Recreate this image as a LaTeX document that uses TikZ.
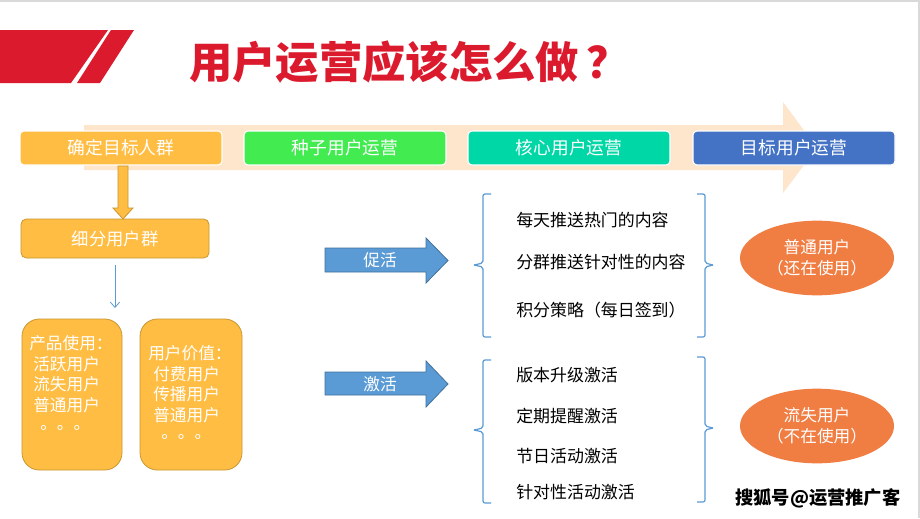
\documentclass[tikz,border=0pt]{standalone}
\usepackage{fontspec}
\setmainfont{Noto Sans CJK SC}
\usetikzlibrary{shapes.geometric,arrows.meta}
\definecolor{linegray}{HTML}{D9D9D9}
\definecolor{titlered}{HTML}{DC1A2E}
\definecolor{peach}{HTML}{FDE6CC}
\definecolor{orangey}{HTML}{FFBD43}
\definecolor{orangeedge}{HTML}{C9962F}
\definecolor{greenbox}{HTML}{41EB50}
\definecolor{tealbox}{HTML}{00D7A6}
\definecolor{bluebox}{HTML}{4472C4}
\definecolor{arrowblue}{HTML}{5B9BD5}
\definecolor{arrowedge}{HTML}{41719C}
\definecolor{ellorange}{HTML}{F07D42}
\tikzset{
  stagebox/.style={draw=white, line width=0.8pt, rounded corners=3pt, minimum width=151.5pt, minimum height=25.5pt, text=white, font=\fontsize{13.3}{15}\selectfont, inner sep=0pt},
  wtext/.style={text=white, font=\fontsize{12.5}{15}\selectfont, inner sep=0pt},
  btext/.style={text=black, font=\fontsize{12.7}{15}\selectfont, inner sep=0pt, anchor=west},
  usrell/.style={ellipse, fill=ellorange, draw=none, minimum width=115.5pt, minimum height=56pt, text=white, font=\fontsize{12.5}{15.5}\selectfont, align=center, inner sep=0pt},
  bracket/.style={draw=arrowblue, line width=0.9pt, rounded corners=1.5pt},
}
\begin{document}
\begin{tikzpicture}[x=0.75pt,y=-0.75pt]
\useasboundingbox (0,0) rectangle (920,518);
\fill[white] (0,0) rectangle (920,518);
\fill[linegray] (0,0) rectangle (920,1.5);
\fill[linegray] (918,0) rectangle (920,518);
% red banner
\fill[titlered] (0,30) -- (108,30) -- (71,83) -- (0,83) -- cycle;
\fill[titlered] (111,30) -- (134,30) -- (100,83) -- (77,83) -- cycle;
\node[anchor=west, text=titlered, font=\bfseries\fontsize{32.5}{38}\selectfont, inner sep=0pt] (title) at (189,62) {用户运营应该怎么做\,？};
% big peach arrow
\fill[peach] (84,125) -- (783,125) -- (783,102) -- (817,148) -- (783,193) -- (783,170) -- (84,170) -- cycle;
% stage boxes
\node[stagebox, fill=orangey] (s1) at (121,148) {确定目标人群};
\node[stagebox, fill=greenbox] (s2) at (345,148) {种子用户运营};
\node[stagebox, fill=tealbox] (s3) at (569,148) {核心用户运营};
\node[stagebox, fill=bluebox] (s4) at (794,148) {目标用户运营};
% segment box
\node[draw=orangeedge, fill=orangey, line width=0.6pt, rounded corners=4pt, minimum width=141pt, minimum height=29.25pt, text=white, font=\fontsize{13}{15}\selectfont, inner sep=0pt] (seg) at (115,238.5) {细分用户群};
% down arrow
\filldraw[fill=orangey, draw=orangeedge, line width=0.6pt] (118,166) -- (128,166) -- (128,208) -- (133,208) -- (123,219) -- (113,208) -- (118,208) -- cycle;
% thin arrow
\coordinate (thinstart) at (115,265);
\coordinate (thinend) at (115,308);
\draw[arrowblue, line width=0.6pt, -{Straight Barb[length=4pt,width=7pt]}] (thinstart) -- (thinend);
% rounded boxes
\filldraw[fill=orangey, draw=orangeedge, line width=0.6pt, rounded corners=13pt] (22,319) rectangle (122,470);
\filldraw[fill=orangey, draw=orangeedge, line width=0.6pt, rounded corners=13pt] (140,319) rectangle (242,470);
\node[wtext, anchor=west] (a1) at (29,343) {产品使用：};
\node[wtext, anchor=west] (a2) at (33,364) {活跃用户};
\node[wtext, anchor=west] (a3) at (33,384) {流失用户};
\node[wtext, anchor=west] (a4) at (33,405) {普通用户};
\node[wtext, anchor=west] (a5) at (40,428) {。。。};
\node[wtext, anchor=west] (b1) at (148,353) {用户价值：};
\node[wtext, anchor=west] (b2) at (153,374) {付费用户};
\node[wtext, anchor=west] (b3) at (153,394) {传播用户};
\node[wtext, anchor=west] (b4) at (153,415) {普通用户};
\node[wtext, anchor=west] (b5) at (161,437) {。。。};
% blue arrows
\filldraw[fill=arrowblue, draw=arrowedge, line width=0.6pt] (325,248) -- (426,248) -- (426,238) -- (448,260.5) -- (426,283) -- (426,272) -- (325,272) -- cycle;
\node[wtext] (cuhuo) at (380,260) {促活};
\filldraw[fill=arrowblue, draw=arrowedge, line width=0.6pt] (325,372) -- (426,372) -- (426,361) -- (448,384) -- (426,407) -- (426,395) -- (325,395) -- cycle;
\node[wtext] (jihuo) at (380,384) {激活};
% brackets
\draw[bracket] (491,194) -- (483,194) -- (483,263) -- (474,265);
\draw[bracket] (474,265) -- (483,267) -- (483,337) -- (491,337);
\draw[bracket] (697,194) -- (705,194) -- (705,263) -- (713,265);
\draw[bracket] (713,265) -- (705,267) -- (705,337) -- (697,337);
\draw[bracket] (491,360) -- (483,360) -- (483,428) -- (474,430);
\draw[bracket] (474,430) -- (483,432) -- (483,503) -- (491,503);
\draw[bracket] (697,357) -- (705,357) -- (705,426) -- (713,428);
\draw[bracket] (713,428) -- (705,430) -- (705,502) -- (697,502);
% texts
\node[btext] (t1) at (516,220) {每天推送热门的内容};
\node[btext] (t2) at (516,262) {分群推送针对性的内容};
\node[btext] (t3) at (516,310) {积分策略（每日签到）};
\node[btext] (t4) at (516,375) {版本升级激活};
\node[btext] (t5) at (516,416) {定期提醒激活};
\node[btext] (t6) at (516,456) {节日活动激活};
\node[btext] (t7) at (516,492) {针对性活动激活};
% ellipses
\node[usrell] (e1) at (817,258) {普通用户\\（还在使用）};
\node[usrell] (e2) at (817,426) {流失用户\\（不在使用）};
% watermark
\node[anchor=west, text=black, font=\bfseries\fontsize{13.7}{16}\selectfont, inner sep=0pt] (wm) at (735,498) {搜狐号@运营推广客};
\end{tikzpicture}
\end{document}
